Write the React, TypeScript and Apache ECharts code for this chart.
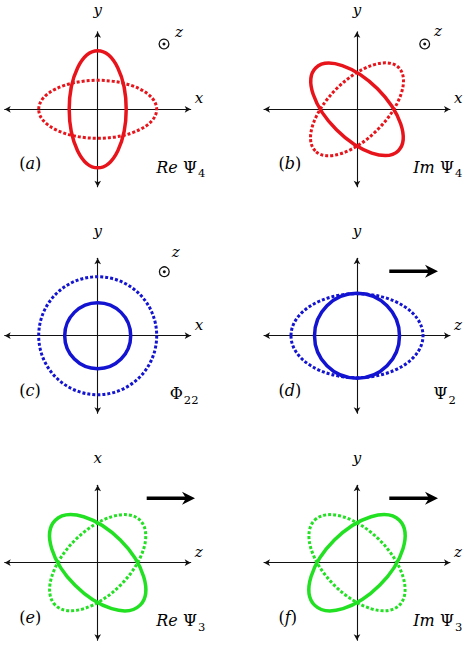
import React, { useEffect, useRef } from 'react';
import * as echarts from 'echarts';

// panels, left to right, top to bottom
const panelTags = ['a', 'b', 'c', 'd', 'e', 'f'];
const hAxisNames = ['x', 'x', 'x', 'z', 'z', 'z'];
const vAxisNames = ['y', 'y', 'y', 'y', 'x', 'y'];
const captions = [
  '{it|Re} {up|Ψ}{sub|4}',
  '{it|Im} {up|Ψ}{sub|4}',
  '{up|Φ}{sub|22}',
  '{up|Ψ}{sub|2}',
  '{it|Re} {up|Ψ}{sub|3}',
  '{it|Im} {up|Ψ}{sub|3}',
];
const rowColors = ['#e8141b', '#1313d2', '#22e022'];

// ellipse semi-axes (axis units) and tilt of the rx axis in degrees
const solidRx = [28.5, 58.5, 33, 42.5, 60, 60];
const solidRy = [58.5, 29, 33, 42.5, 32, 32];
const solidTilt = [0, -45, 0, 0, -45, 45];
const dottedRx = [59, 59, 59, 66, 60, 60];
const dottedRy = [29, 29, 59, 42, 32, 32];
const dottedTilt = [0, 45, 0, 0, 45, -45];

// "z out of the page" markers
const markerPanels = [0, 1, 2];
const markerX = [66.3, 67.7, 66.6];
const markerY = [65.3, 65.3, 64];

// propagation arrows
const arrowPanels = [3, 4, 5];
const arrowFrom = [32.3, 49, 32.3];
const arrowTo = [81, 97.3, 81];
const arrowY = [64.5, 64.4, 64.4];

// layout (px)
const colX = [97.7, 357];
const rowY = [109.3, 335.7, 562.7];
const HALF_W = 93;
const HALF_H = 77.5;
const captionLeft = [58.5, 56.2, 70, 74.5, 58.5, 56.2];
const yNameGap = [14, 19.4, 19.4];
const markerLabelOffset = [[15, -12.5], [13.3, -13.5], [11.3, -19.5]];

const SERIF = 'DejaVu Serif';
const INK = '#111';

const origin = (i: number) => [colX[i % 2], rowY[Math.floor(i / 2)]];

const itStyle = { fontFamily: SERIF, fontStyle: 'italic', fontSize: 16, lineHeight: 20, verticalAlign: 'top', fill: '#000' };
const upStyle = { fontFamily: SERIF, fontStyle: 'normal', fontSize: 16, lineHeight: 20, verticalAlign: 'top', fill: '#000' };
const rich = {
  it: itStyle,
  up: { ...upStyle, padding: [0, 0, 0, 2] },
  sub: { fontFamily: SERIF, fontStyle: 'normal', fontSize: 11.5, lineHeight: 10, verticalAlign: 'bottom', fill: '#000', padding: [0, 0, 0, 1] },
};
const tagRich = { it: itStyle, up: upStyle };

function ellipseSeries(p: number, rx: number, ry: number, tilt: number, dotted: boolean) {
  const color = rowColors[Math.floor(p / 2)];
  return {
    type: 'custom',
    xAxisIndex: p,
    yAxisIndex: p,
    z: dotted ? 2 : 3,
    data: [[0, 0, rx, ry, tilt]],
    encode: { x: 0, y: 1 },
    renderItem: (_: any, api: any) => {
      const c = api.coord([api.value(0), api.value(1)]);
      const s = api.size([api.value(2), api.value(3)]);
      return {
        type: 'ellipse',
        x: c[0],
        y: c[1],
        rotation: (api.value(4) * Math.PI) / 180,
        shape: { cx: 0, cy: 0, rx: s[0], ry: s[1] },
        style: {
          fill: 'none',
          stroke: color,
          lineWidth: dotted ? 3 : 3.5,
          lineDash: dotted ? [3, 2] : null,
        },
      };
    },
  };
}

function markerSeries(k: number) {
  const p = markerPanels[k];
  const [dx, dy] = markerLabelOffset[k];
  return {
    type: 'custom',
    xAxisIndex: p,
    yAxisIndex: p,
    z: 4,
    data: [[markerX[k], markerY[k]]],
    encode: { x: 0, y: 1 },
    renderItem: (_: any, api: any) => {
      const c = api.coord([api.value(0), api.value(1)]);
      return {
        type: 'group',
        x: c[0],
        y: c[1],
        children: [
          { type: 'circle', shape: { cx: 0, cy: 0, r: 4.9 }, style: { fill: '#fff', stroke: INK, lineWidth: 1.3 } },
          { type: 'circle', shape: { cx: 0, cy: 0, r: 1.5 }, style: { fill: INK } },
          {
            type: 'text',
            x: dx,
            y: dy,
            style: {
              text: 'z',
              fontFamily: SERIF,
              fontStyle: 'italic',
              fontSize: 15,
              fill: '#000',
              align: 'center',
              verticalAlign: 'middle',
            },
          },
        ],
      };
    },
  };
}

function arrowSeries(k: number) {
  const p = arrowPanels[k];
  return {
    type: 'custom',
    xAxisIndex: p,
    yAxisIndex: p,
    z: 4,
    data: [[arrowFrom[k], arrowTo[k], arrowY[k]]],
    encode: { x: [0, 1], y: 2 },
    renderItem: (_: any, api: any) => {
      const a = api.coord([api.value(0), api.value(2)]);
      const b = api.coord([api.value(1), api.value(2)]);
      const y = a[1];
      return {
        type: 'group',
        children: [
          { type: 'line', shape: { x1: a[0], y1: y, x2: b[0] - 8, y2: y }, style: { stroke: '#000', lineWidth: 3.4 } },
          {
            type: 'polygon',
            shape: { points: [[b[0], y], [b[0] - 13, y - 6.5], [b[0] - 9, y], [b[0] - 13, y + 6.5]] },
            style: { fill: '#000' },
          },
        ],
      };
    },
  };
}

const axisLine = {
  onZero: true,
  symbol: ['arrow', 'arrow'],
  symbolSize: [5, 6],
  lineStyle: { color: INK, width: 1.1 },
};
const nameFont = { fontFamily: SERIF, fontStyle: 'italic', fontSize: 15, color: '#000', lineHeight: 16 };

export default function App() {
  const chartRef = useRef<HTMLDivElement>(null);

  useEffect(() => {
    if (!chartRef.current) return;
    const chart = echarts.init(chartRef.current, null, { renderer: 'svg' });

    const grid = panelTags.map((_, i) => {
      const [ox, oy] = origin(i);
      return {
        left: ox - HALF_W,
        top: oy - HALF_H,
        width: HALF_W * 2,
        height: HALF_H * 2,
        containLabel: false,
        outerBoundsMode: 'none',
      };
    });

    const xAxis = panelTags.map((_, i) => ({
      gridIndex: i,
      type: 'value',
      min: -HALF_W,
      max: HALF_W,
      name: hAxisNames[i],
      nameLocation: 'end',
      nameGap: 4,
      nameTextStyle: { ...nameFont, align: 'left', verticalAlign: 'bottom', padding: [0, 0, 3, 0] },
      axisLine,
      axisTick: { show: false },
      axisLabel: { show: false },
      splitLine: { show: false },
    }));

    const yAxis = panelTags.map((_, i) => ({
      gridIndex: i,
      type: 'value',
      min: -HALF_H,
      max: HALF_H,
      name: vAxisNames[i],
      nameLocation: 'end',
      nameGap: yNameGap[Math.floor(i / 2)],
      nameTextStyle: { ...nameFont, align: 'center', verticalAlign: 'bottom' },
      axisLine,
      axisTick: { show: false },
      axisLabel: { show: false },
      splitLine: { show: false },
    }));

    const series: any[] = [];
    panelTags.forEach((_, i) => {
      series.push(ellipseSeries(i, dottedRx[i], dottedRy[i], dottedTilt[i], true));
      series.push(ellipseSeries(i, solidRx[i], solidRy[i], solidTilt[i], false));
    });
    markerPanels.forEach((_, k) => series.push(markerSeries(k)));
    arrowPanels.forEach((_, k) => series.push(arrowSeries(k)));

    const graphic: any[] = [];
    panelTags.forEach((tag, i) => {
      const [ox, oy] = origin(i);
      graphic.push({
        type: 'text',
        x: ox - 78.5,
        y: oy + 56.5,
        style: {
          text: `{up|(}{it|${tag}}{up|)}`,
          rich: tagRich,
          align: 'left',
          verticalAlign: 'middle',
        },
      });
      graphic.push({
        type: 'text',
        x: ox + captionLeft[i],
        y: oy + 60,
        style: {
          text: captions[i],
          rich,
          align: 'left',
          verticalAlign: 'middle',
        },
      });
    });

    chart.setOption({
      animation: false,
      backgroundColor: '#fff',
      grid,
      xAxis,
      yAxis,
      series,
      graphic,
    });

    return () => chart.dispose();
  }, []);

  return (
    <div
      ref={chartRef}
      style={{ position: 'absolute', left: 0, top: 0, width: '474px', height: '645px' }}
    />
  );
}
